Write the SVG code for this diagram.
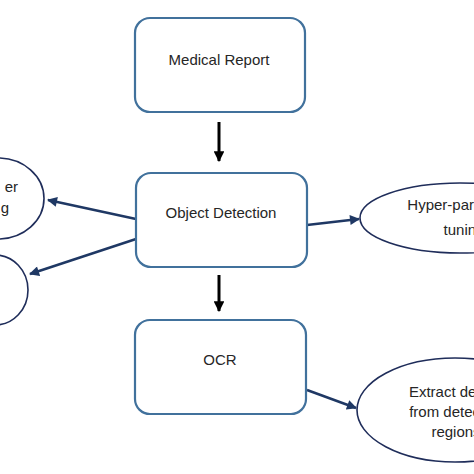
<svg xmlns="http://www.w3.org/2000/svg" width="474" height="474" viewBox="0 0 474 474">
<style>
.box{fill:#fff;stroke:#41719c;stroke-width:2.2}
.ell{fill:#fff;stroke:#1f2d5a;stroke-width:1.6}
.t{font-family:"Liberation Sans",Arial,sans-serif;font-size:15px;fill:#262626;text-anchor:middle}
.blk{stroke:#000;stroke-width:3;fill:none}
.nav{stroke:#1f3864;stroke-width:2.5;fill:none}
</style>
<defs>
<marker id="ab" viewBox="0 0 10 10" refX="9" refY="5" markerWidth="3.6" markerHeight="3.6" orient="auto" markerUnits="strokeWidth"><path d="M0,0L10,5L0,10z" fill="#000"/></marker>
<marker id="an" viewBox="0 0 10 10" refX="9" refY="5" markerWidth="4.4" markerHeight="4" orient="auto" markerUnits="strokeWidth"><path d="M0,0L10,5L0,10z" fill="#1f3864"/></marker>
</defs>
<rect width="474" height="474" fill="#fff"/>
<g id="connectors">
<line class="blk" x1="219" y1="122" x2="219" y2="161" marker-end="url(#ab)"/>
<line class="blk" x1="219" y1="275" x2="219" y2="311" marker-end="url(#ab)"/>
<line class="nav" x1="136" y1="219" x2="48" y2="200" marker-end="url(#an)"/>
<line class="nav" x1="136" y1="239" x2="30" y2="274" marker-end="url(#an)"/>
<line class="nav" x1="307" y1="225" x2="359" y2="219" marker-end="url(#an)"/>
<line class="nav" x1="307" y1="390" x2="356" y2="408" marker-end="url(#an)"/>
</g>
<g id="medical-report">
<rect class="box" x="135" y="18" width="170" height="94" rx="15"/>
<text class="t" x="219" y="65">Medical Report</text>
</g>
<g id="object-detection">
<rect class="box" x="136" y="173" width="171" height="94" rx="15"/>
<text class="t" x="221" y="218">Object Detection</text>
</g>
<g id="ocr">
<rect class="box" x="135" y="320" width="171" height="94" rx="15"/>
<text class="t" x="220" y="365">OCR</text>
</g>
<g id="left-top">
<ellipse class="ell" cx="-2" cy="198.5" rx="46" ry="40.5"/>
<text class="t" x="18" y="192" style="text-anchor:end">er</text>
<text class="t" x="9" y="213" style="text-anchor:end">g</text>
</g>
<g id="left-bottom">
<ellipse class="ell" cx="-5" cy="290" rx="33" ry="35"/>
</g>
<g id="hyper-parameter">
<ellipse class="ell" cx="460" cy="218" rx="100" ry="35"/>
<text class="t" x="464" y="210">Hyper-parameter</text>
<text class="t" x="464" y="235">tuning</text>
</g>
<g id="extract">
<ellipse class="ell" cx="455" cy="410" rx="98" ry="52"/>
<text class="t" x="456" y="397">Extract details</text>
<text class="t" x="455" y="417">from detected</text>
<text class="t" x="456" y="437">regions</text>
</g>
</svg>
